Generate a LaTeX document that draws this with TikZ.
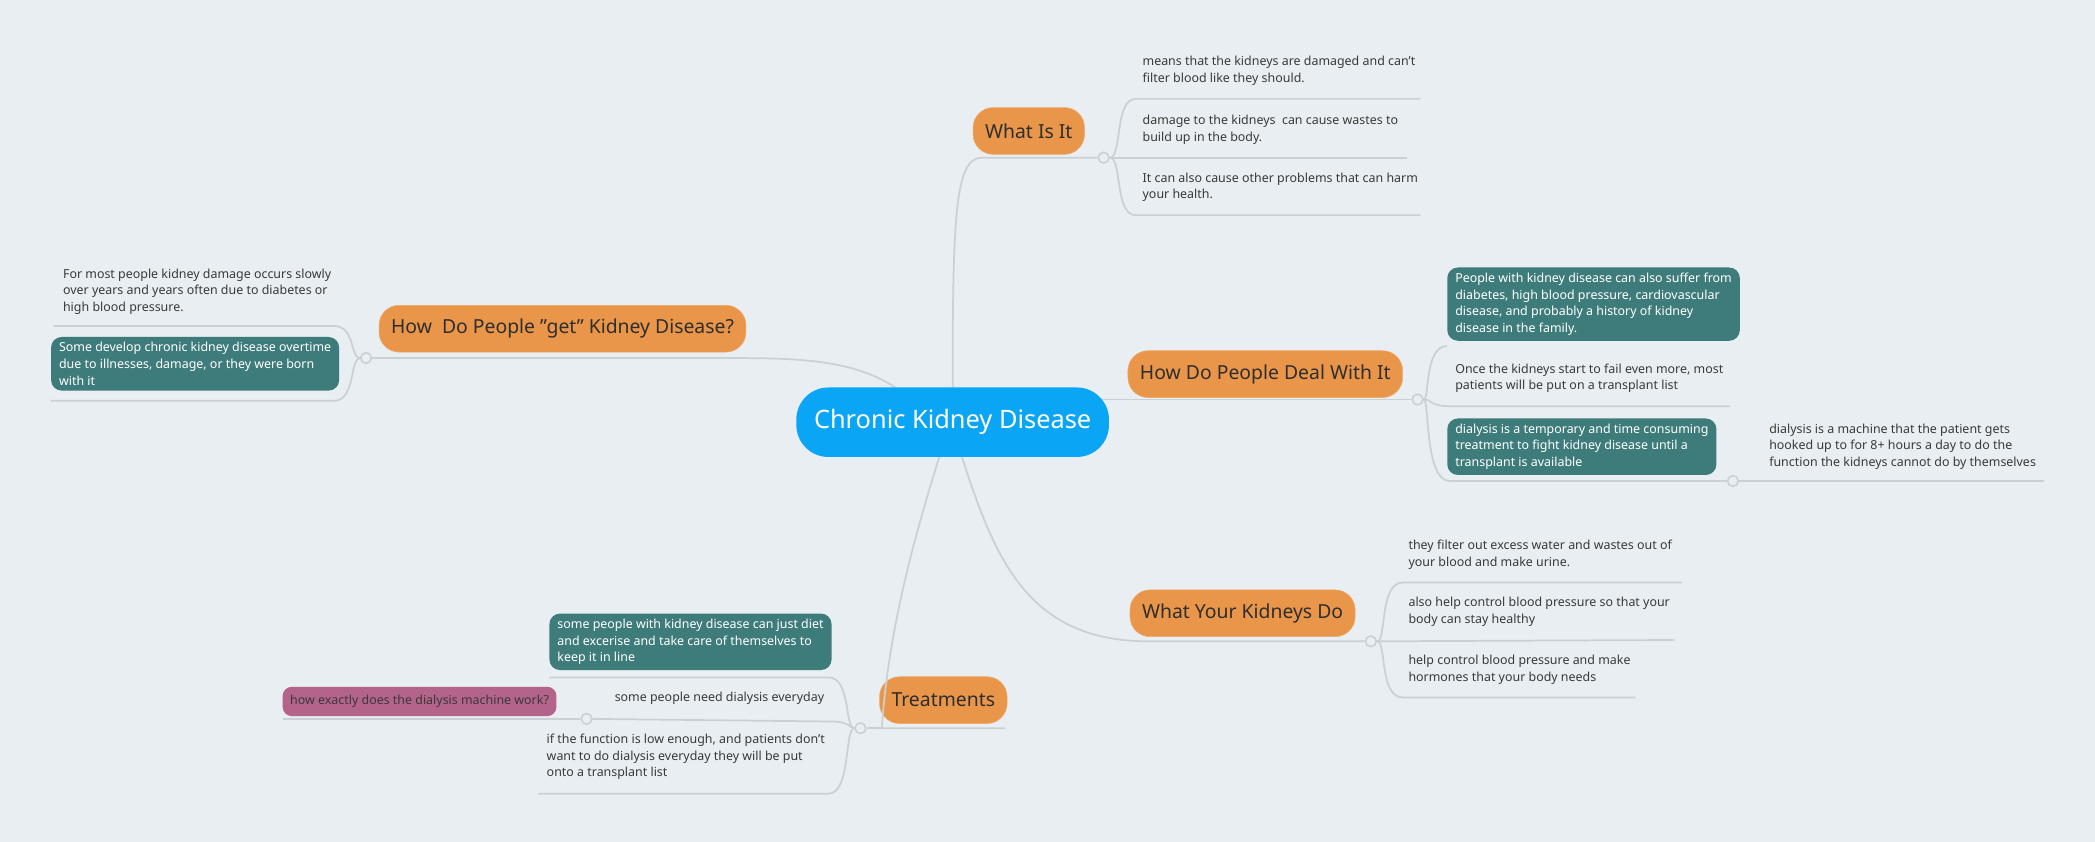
\documentclass[tikz,border=0pt]{standalone}
\usepackage{fontspec}
\setmainfont{Noto Sans}
\definecolor{bg}{HTML}{E8EEF1}
\definecolor{ln}{HTML}{C9D1D5}
\definecolor{org}{HTML}{E9964A}
\definecolor{tea}{HTML}{3E7C7B}
\definecolor{blu}{HTML}{0AA5F5}
\definecolor{pnk}{HTML}{B4638B}
\definecolor{txt}{HTML}{3A3A3A}
\tikzset{
 main/.style={fill=blu,rounded corners=24pt,text=white,font=\fontsize{19}{22}\selectfont,minimum width=234pt,minimum height=52pt,inner sep=0pt},
 topic/.style={fill=org,draw=org!80!white,rounded corners=15pt,text=txt!80!black,font=\fontsize{14.5}{17}\selectfont,minimum height=35pt,inner xsep=9pt,inner ysep=0pt},
 leaf/.style={anchor=north west,align=left,text=txt,font=\fontsize{9.3}{12.5}\selectfont,inner sep=0pt},
 tbox/.style={anchor=north west,align=left,fill=tea,text=white,rounded corners=8pt,font=\fontsize{9.3}{12.5}\selectfont,inner xsep=6pt,inner ysep=4pt},
 pbox/.style={fill=pnk,text=txt,rounded corners=7pt,font=\fontsize{9.3}{12.5}\selectfont,minimum width=205pt,minimum height=22pt,inner sep=0pt},
 con/.style={draw=ln,line width=1.3pt},
 knob/.style={circle,draw=ln,fill=bg,line width=1.2pt,inner sep=0pt,minimum size=8pt},
}
\begin{document}
\begin{tikzpicture}[x=1pt,y=-1pt]
\fill[bg] (0,0) rectangle (1568,630);
\useasboundingbox (0,0) rectangle (1568,630);

% ---- What Is It
\node[topic] (wi) at (770,98) {What Is It};
\node[leaf] (wi1) at (855,42) {means that the kidneys are damaged and can't\\filter blood like they should.};
\node[leaf] (wi2) at (855,86) {damage to the kidneys\ \ can cause wastes to\\build up in the body.};
\node[leaf] (wi3) at (855,129) {It can also cause other problems that can harm\\your health.};
\node[knob] (kwi) at (826,118) {};
\draw[con] (713,290) .. controls (713,160) and (715,118) .. (735,118) -- (kwi);
\draw[con] (kwi) .. controls (840,118) and (834,74) .. (850,74) -- (1063,74);
\draw[con] (kwi) -- (1053,118);
\draw[con] (kwi) .. controls (840,118) and (834,161) .. (850,161) -- (1063,161);

% ---- How Do People Deal With It
\node[topic] (dw) at (947,280) {How Do People Deal With It};
\node[knob] (kdw) at (1061,299) {};
\node[tbox] (dw1) at (1083,200) {People with kidney disease can also suffer from\\diabetes, high blood pressure, cardiovascular\\disease, and probably a history of kidney\\disease in the family.};
\node[leaf] (dw2) at (1089,272) {Once the kidneys start to fail even more, most\\patients will be put on a transplant list};
\node[tbox] (dw3) at (1083,313) {dialysis is a temporary and time consuming\\treatment to fight kidney disease until a\\transplant is available};
\node[knob] (kdw3) at (1297,360) {};
\node[leaf] (dw4) at (1324,317) {dialysis is a machine that the patient gets\\hooked up to for 8+ hours a day to do the\\function the kidneys cannot do by themselves};
\draw[con] (770,299) -- (kdw);
\draw[con] (kdw) .. controls (1070,299) and (1066,259) .. (1083,259);
\draw[con] (kdw) .. controls (1072,299) and (1070,304) .. (1085,304) -- (1295,304);
\draw[con] (kdw) .. controls (1070,299) and (1066,360) .. (1085,360) -- (kdw3);
\draw[con] (kdw3) .. controls (1308,360) and (1310,360) .. (1320,360) -- (1530,360);

% ---- What Your Kidneys Do
\node[topic] (wk) at (930,459) {What Your Kidneys Do};
\node[knob] (kwk) at (1026,480) {};
\node[leaf] (wk1) at (1054,404) {they filter out excess water and wastes out of\\your blood and make urine.};
\node[leaf] (wk2) at (1054,447) {also help control blood pressure so that your\\body can stay healthy};
\node[leaf] (wk3) at (1054,490) {help control blood pressure and make\\hormones that your body needs};
\draw[con] (720,342) .. controls (745,420) and (770,480) .. (860,480) -- (kwk);
\draw[con] (kwk) .. controls (1038,480) and (1032,436) .. (1050,436) -- (1259,436);
\draw[con] (kwk) -- (1253,479);
\draw[con] (kwk) .. controls (1038,480) and (1032,522) .. (1050,522) -- (1224,522);

% ---- Treatments
\node[topic] (tr) at (706,524) {Treatments};
\node[knob] (ktr) at (644,545) {};
\node[tbox] (tr1) at (411,459) {some people with kidney disease can just diet\\and excerise and take care of themselves to\\keep it in line};
\node[leaf,anchor=north east] (tr2) at (617,518) {some people need dialysis everyday};
\node[knob] (ktr2) at (439,538) {};
\node[pbox] (tr3) at (314,525) {how exactly does the dialysis machine work?};
\node[leaf] (tr4) at (409,549) {if the function is low enough, and patients don't\\want to do dialysis everyday they will be put\\onto a transplant list};
\draw[con] (703,342) .. controls (685,400) and (665,470) .. (660,545) -- (752,545);
\draw[con] (ktr) -- (660,545);
\draw[con] (ktr) .. controls (632,545) and (637,507) .. (620,507) -- (411,507);
\draw[con] (ktr) .. controls (636,545) and (636,540) .. (622,540) -- (ktr2);
\draw[con] (ktr2) .. controls (430,538) and (425,538) .. (415,538) -- (212,538);
\draw[con] (ktr) .. controls (632,545) and (637,594) .. (620,594) -- (403,594);

% ---- How Do People get
\node[topic] (hg) at (421,246) {How\ \ Do People "get" Kidney Disease?};
\node[knob] (khg) at (274,268) {};
\node[leaf] (hg1) at (47,201) {For most people kidney damage occurs slowly\\over years and years often due to diabetes or\\high blood pressure.};
\node[tbox] (hg2) at (38,252) {Some develop chronic kidney disease overtime\\due to illnesses, damage, or they were born\\with it};
\draw[con] (670,290) .. controls (640,270) and (600,268) .. (551,268) -- (khg);
\draw[con] (khg) .. controls (262,268) and (266,244) .. (250,244) -- (40,244);
\draw[con] (khg) .. controls (262,268) and (266,300) .. (250,300) -- (38,300);

% ---- center
\node[main] (c) at (713,316) {Chronic Kidney Disease};
\end{tikzpicture}
\end{document}
